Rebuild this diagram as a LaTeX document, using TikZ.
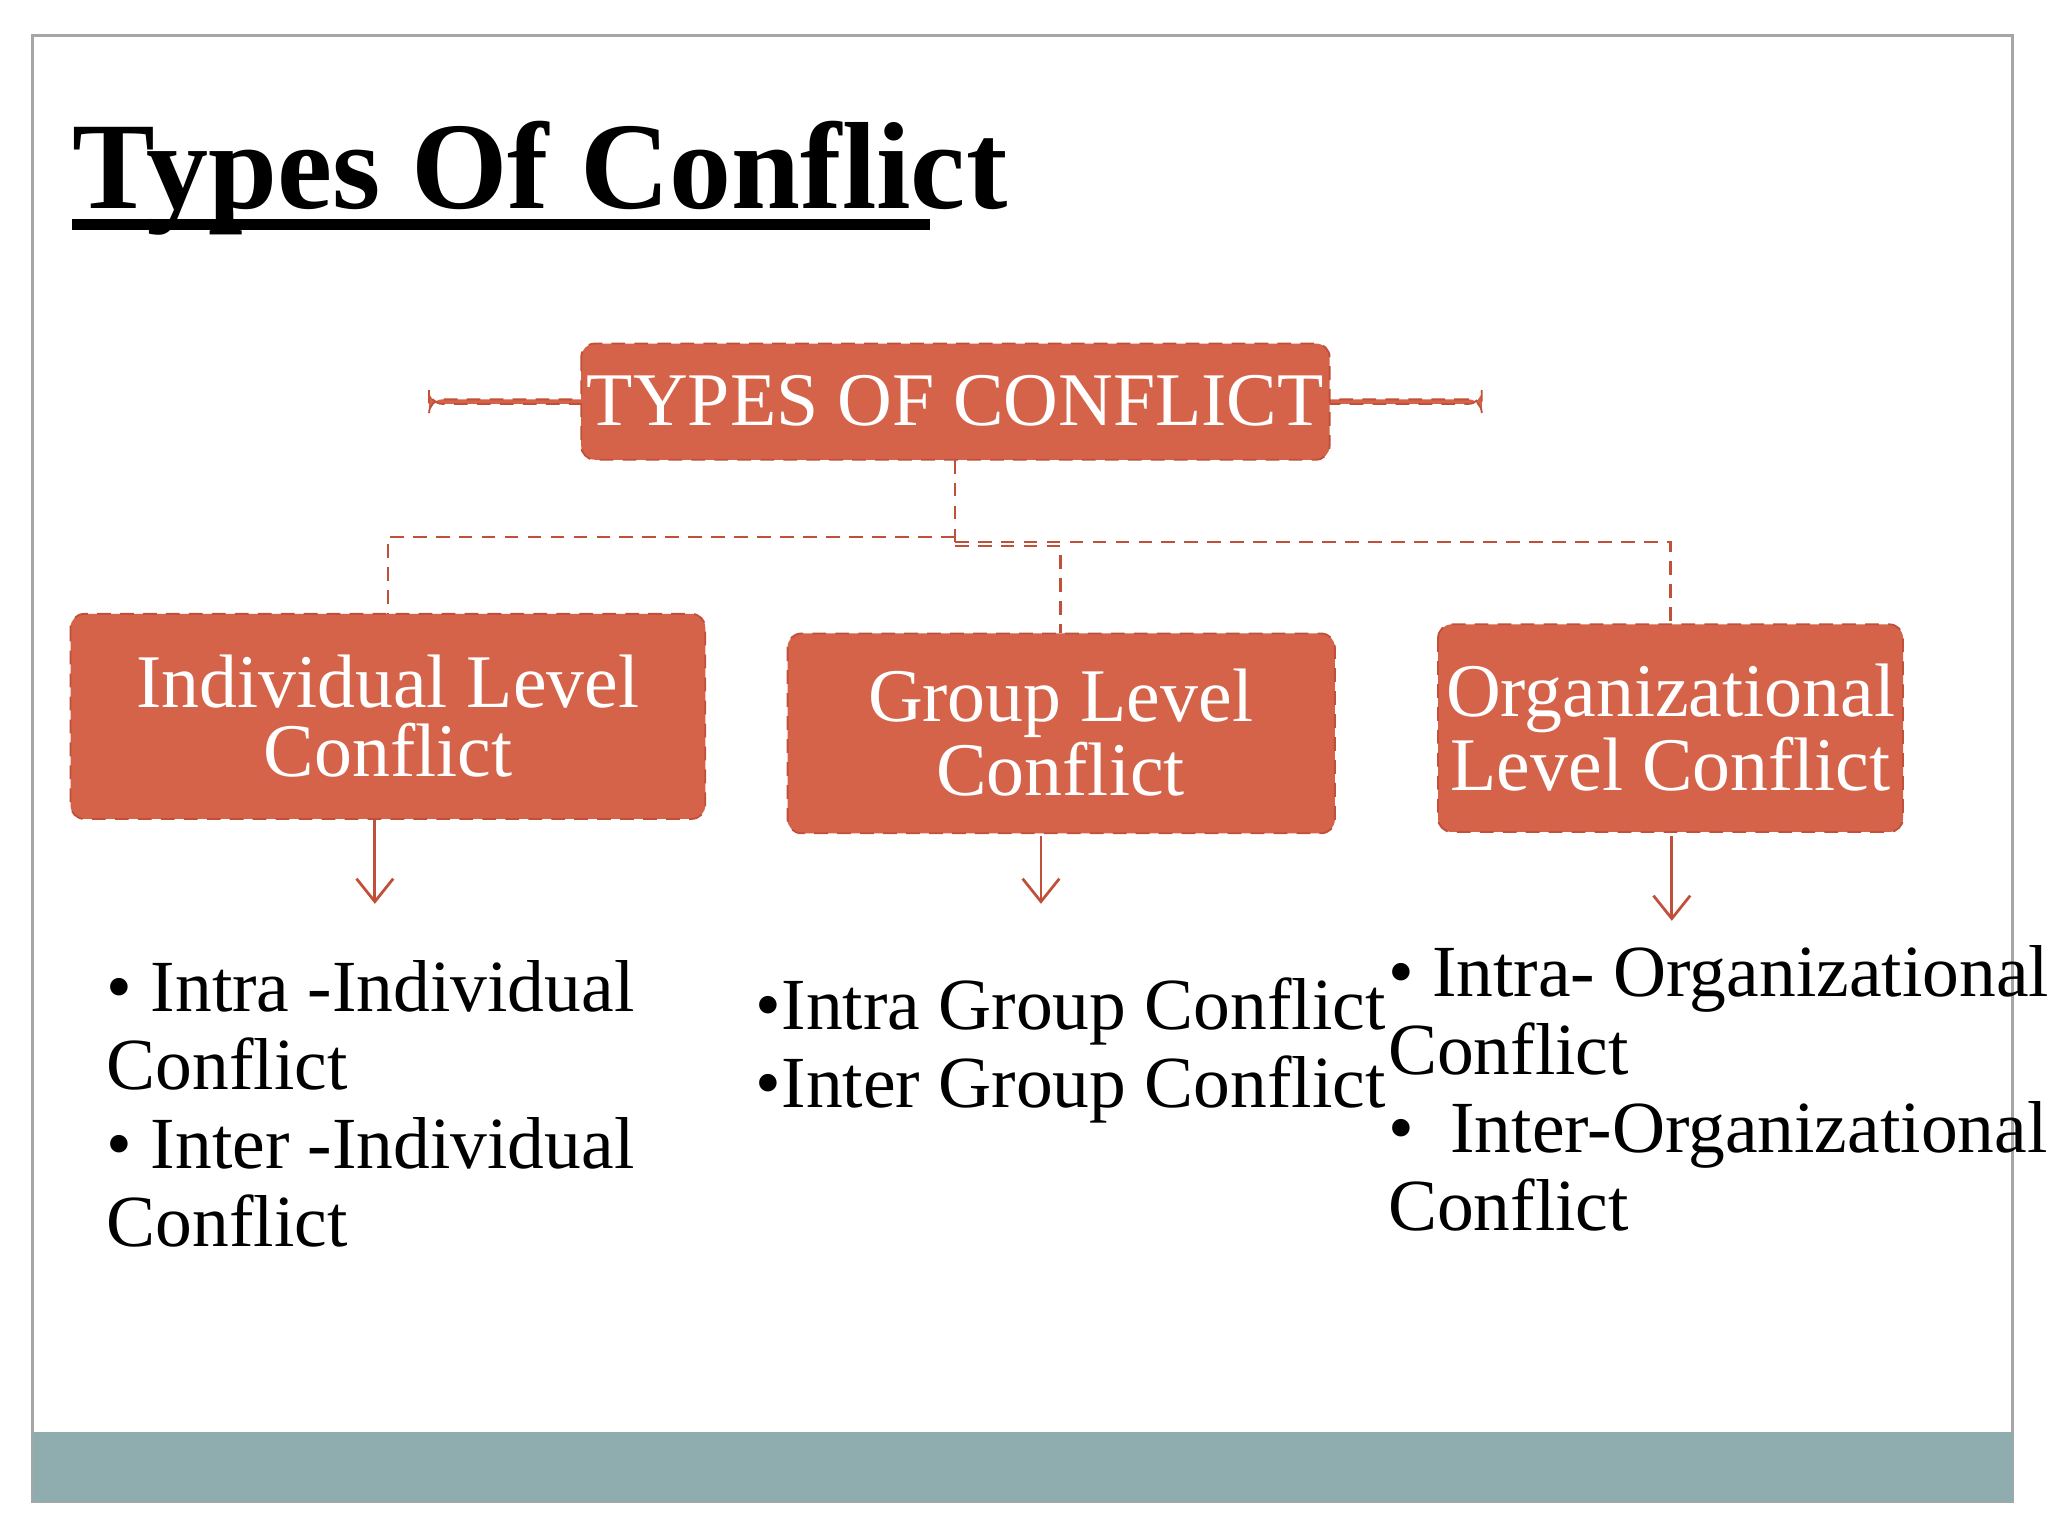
\documentclass[tikz,border=0pt]{standalone}
\usepackage{fontspec}
\setmainfont{Liberation Serif}
\usetikzlibrary{arrows.meta}
\definecolor{boxred}{HTML}{D4634A}
\definecolor{boxedge}{HTML}{C0503A}
\definecolor{band}{HTML}{8FADAF}
\begin{document}
\begin{tikzpicture}[x=0.01cm,y=-0.01cm,
  catbox/.style={fill=boxred,draw=boxedge,densely dashed,rounded corners=3pt,text=white,align=center,font=\fontsize{16.5}{15}\selectfont,inner sep=0pt},
  link/.style={draw=boxedge,densely dashed,line width=0.5pt},
  down/.style={draw=boxedge,line width=0.6pt,-{Straight Barb[length=5pt,width=8pt]}},
  list/.style={anchor=north west,align=left,font=\fontsize{16}{17}\selectfont,inner sep=0pt}]
\useasboundingbox (0,0) rectangle (1568,1176);
\fill[white] (0,0) rectangle (1568,1176);
\draw[gray!70,line width=0.6pt] (25,27) rectangle (1541,1150);
\fill[band] (25,1096) rectangle (1541,1150);
\node[anchor=base west,inner sep=0pt,font=\fontsize{27}{30}\selectfont\bfseries] (title) at (55,160) {Types Of Conflict};
\draw[line width=2.5pt] (55,172) -- (712,172);
\node[catbox,minimum width=573\pgflinewidth] (top) at (731.5,307.5) {};
\path[catbox] (445,263) rectangle (1018,352);
\node[text=white,font=\fontsize{16.5}{15}\selectfont] (toptext) at (731.5,307) {TYPES OF CONFLICT};
\path[catbox] (54,470) rectangle (540,627);
\path[catbox] (603,485) rectangle (1022,638);
\path[catbox] (1101,478) rectangle (1457,637);
\node[text=white,align=center,font=\fontsize{16.5}{15}\selectfont] (b1) at (297,548) {Individual Level\\Conflict};
\node[text=white,align=center,font=\fontsize{16.5}{15}\selectfont] (b2) at (812,561) {Group Level\\Conflict};
\node[text=white,align=center,font=\fontsize{16.5}{15}\selectfont] (b3) at (1279,557) {Organizational\\Level Conflict};
\coordinate (tb) at (731,352);
\coordinate (j1) at (731,411);
\coordinate (j2) at (731,418);
\coordinate (j3) at (731,415);
\draw[link] (tb) -- (j2);
\draw[link] (j1) -- (297,411) -- (297,470);
\draw[link] (j2) -- (812,418) -- (812,485);
\draw[link] (j3) -- (1279,415) -- (1279,478);
\coordinate (a1s) at (287,628); \coordinate (a1e) at (287,692);
\coordinate (a2s) at (797,640); \coordinate (a2e) at (797,692);
\coordinate (a3s) at (1280,640); \coordinate (a3e) at (1280,705);
\draw[down] (a1s) -- (a1e);
\draw[down] (a2s) -- (a2e);
\draw[down] (a3s) -- (a3e);
\node[list] (l1) at (81,735) {• Intra -Individual\\Conflict\\• Inter -Individual\\Conflict};
\node[list] (l2) at (578,748) {•Intra Group Conflict\\•Inter Group Conflict};
\node[list] (l3) at (1062,723) {• Intra- Organizational\\Conflict\\•\ \ Inter-Organizational\\Conflict};
\end{tikzpicture}
\end{document}
